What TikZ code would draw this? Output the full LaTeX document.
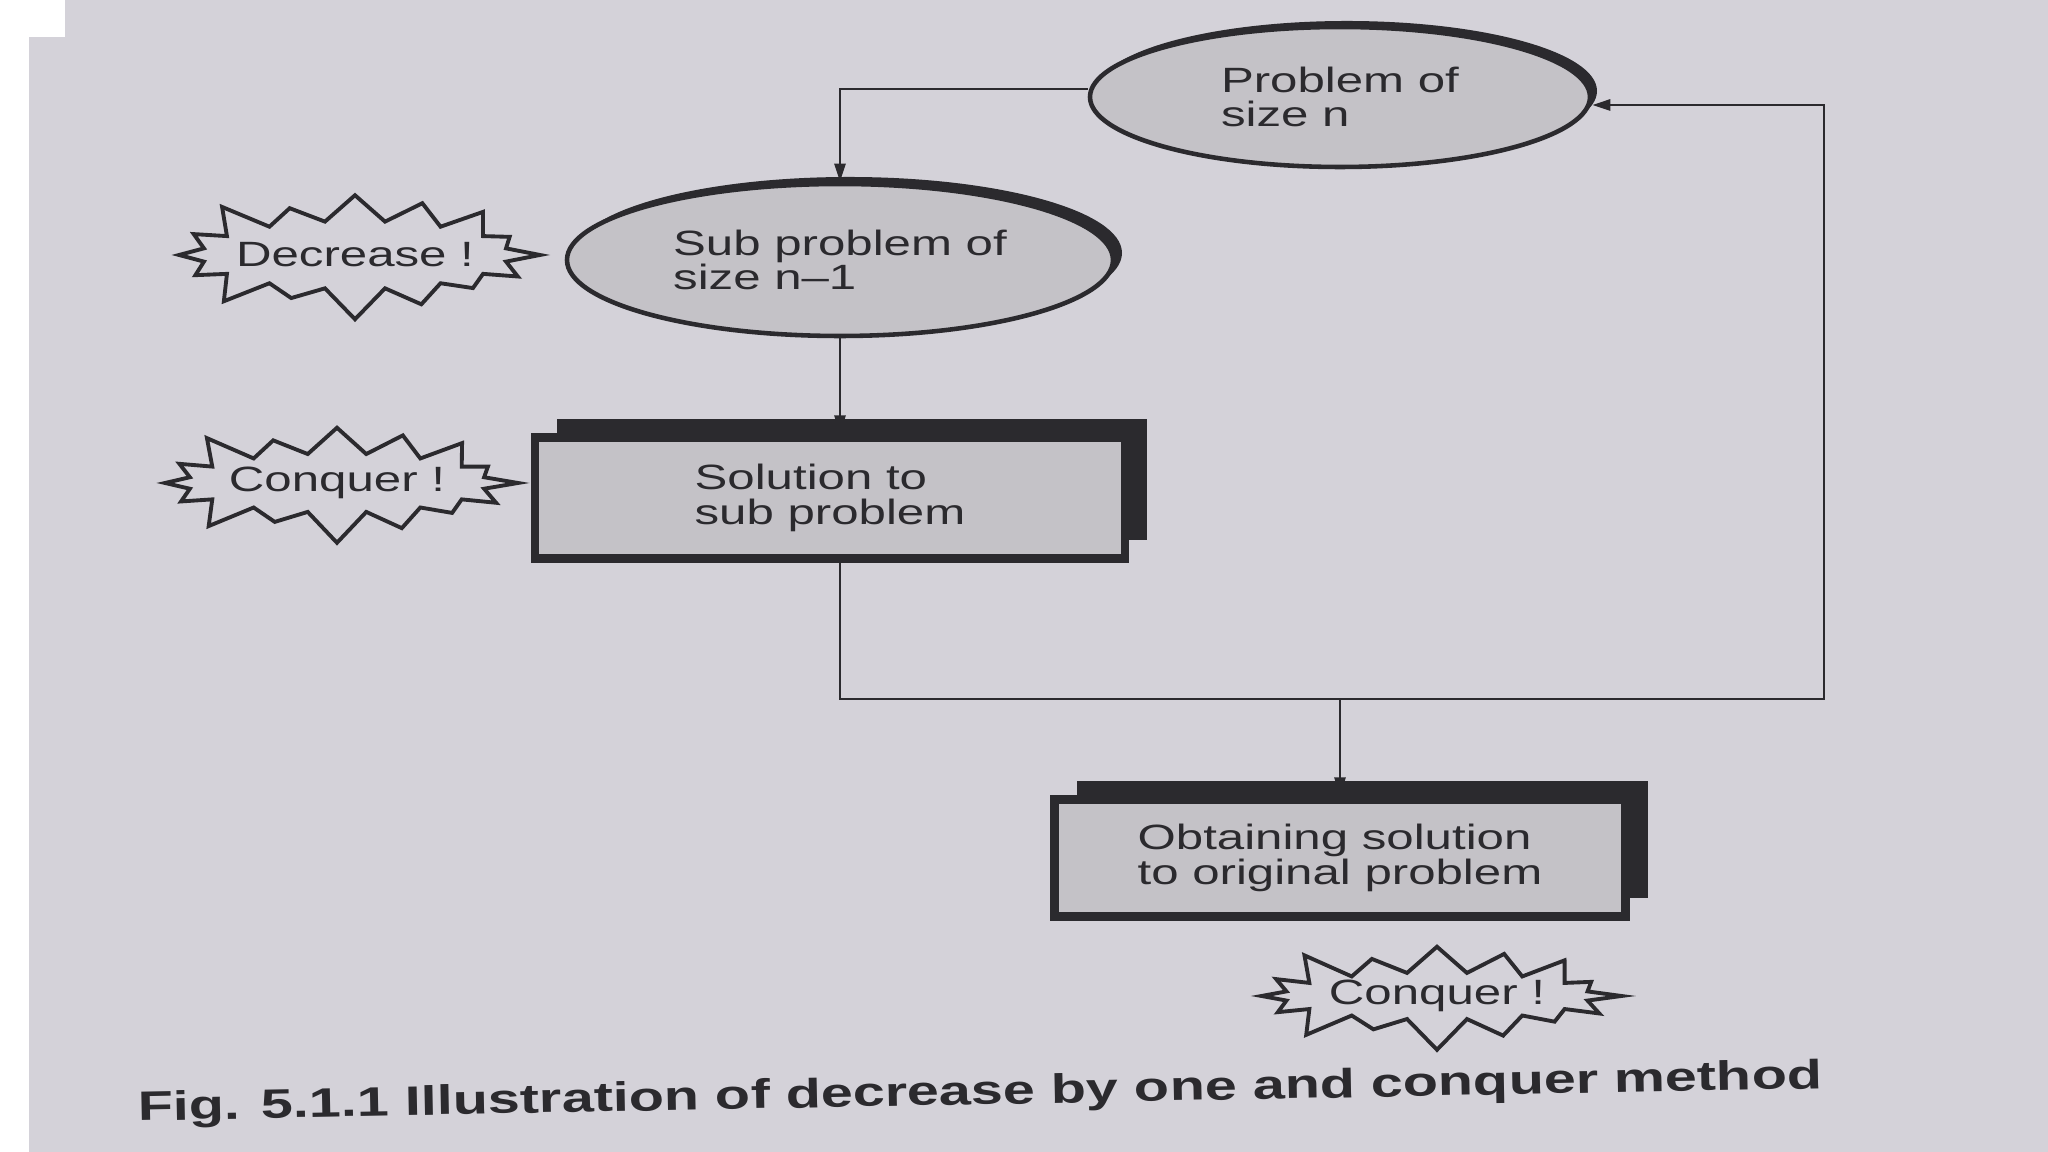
\documentclass[tikz,border=0pt]{standalone}
\usepackage{fontspec}
\setmainfont{Liberation Sans}[FakeStretch=1.4]
\usepackage{tikz}
\usetikzlibrary{shapes.geometric,shapes.symbols,shadows,arrows.meta}
\definecolor{paper}{HTML}{D4D2D9}
\definecolor{ink}{HTML}{2B2A2E}
\definecolor{boxfill}{HTML}{C4C2C7}
\tikzset{
  oval/.style={ellipse, draw=ink, line width=1.3pt, fill=boxfill, inner sep=0pt,
    align=left, text=ink, font=\fontsize{10}{9.5}\selectfont},
  blk/.style={rectangle, draw=ink, line width=2.4pt, fill=boxfill, inner sep=0pt,
    align=left, text=ink, font=\fontsize{10}{9.8}\selectfont,
    drop shadow={shadow xshift=2.2mm, shadow yshift=1.8mm, fill=ink, opacity=1}},
  burst/.style={starburst, draw=ink, line width=1.1pt, inner sep=0pt,
    starburst points=16, starburst point height=0.36cm},
  bursttext/.style={text=ink, font=\fontsize{10}{10}\selectfont, inner sep=0pt},
  link/.style={draw=ink, line width=0.8pt},
  arr/.style={link, -{Triangle[length=1.8mm,width=1.1mm]}},
}

\begin{document}
\begin{tikzpicture}
  \useasboundingbox (0,0) rectangle (20.48,11.52);
  \fill[paper] (0,0) rectangle (20.48,11.52);
  \fill[white] (0,0) rectangle (0.29,11.52);
  \fill[white] (0,11.15) rectangle (0.65,11.52);

  % flow boxes
  \node[oval, minimum width=5.0cm, minimum height=1.40cm,
    drop shadow={shadow xshift=0.7mm, shadow yshift=0.6mm, fill=ink, opacity=1}]
    (top) at (13.40,10.55) {Problem of\\size n};
  \node[oval, minimum width=5.46cm, minimum height=1.52cm,
    drop shadow={shadow xshift=0.9mm, shadow yshift=0.7mm, fill=ink, opacity=1}]
    (sub) at (8.40,8.92) {Sub problem of\\size n--1};
  \node[blk, minimum width=5.9cm, minimum height=1.21cm] (sol) at (8.30,6.54)
    {Solution to\\sub problem};
  \node[blk, minimum width=5.71cm, minimum height=1.17cm] (obt) at (13.40,2.94)
    {Obtaining solution\\to original problem};

  % bursts
  \node[burst, minimum width=3.80cm, minimum height=1.40cm,
    label={[bursttext]center:Decrease !}] (dec) at (3.55,8.97) {};
  \node[burst, minimum width=3.72cm, minimum height=1.31cm,
    label={[bursttext]center:Conquer !}] (cq1) at (3.37,6.69) {};
  \node[burst, minimum width=3.79cm, minimum height=1.19cm,
    label={[bursttext]center:Conquer !}] (cq2) at (14.37,1.56) {};

  % connectors
  \coordinate (cr) at (18.24,4.53);
  \coordinate (jn) at (obt.north |- cr);
  \draw[arr] ([yshift=0.8mm]top.west) -| (sub.north);
  \draw[arr] (sub.south) -- (sub.south |- sol.north);
  \draw[arr] (sub.south |- sol.south) |- (cr) |- ([yshift=-0.8mm]top.east);
  \draw[arr] (jn) -- (obt.north);

  \node[text=ink, font=\fontsize{11.7}{13}\selectfont\bfseries, rotate=1.1]
    (cap) at (9.80,0.58) {Fig. 5.1.1 Illustration of decrease by one and conquer method};
\end{tikzpicture}
\end{document}
